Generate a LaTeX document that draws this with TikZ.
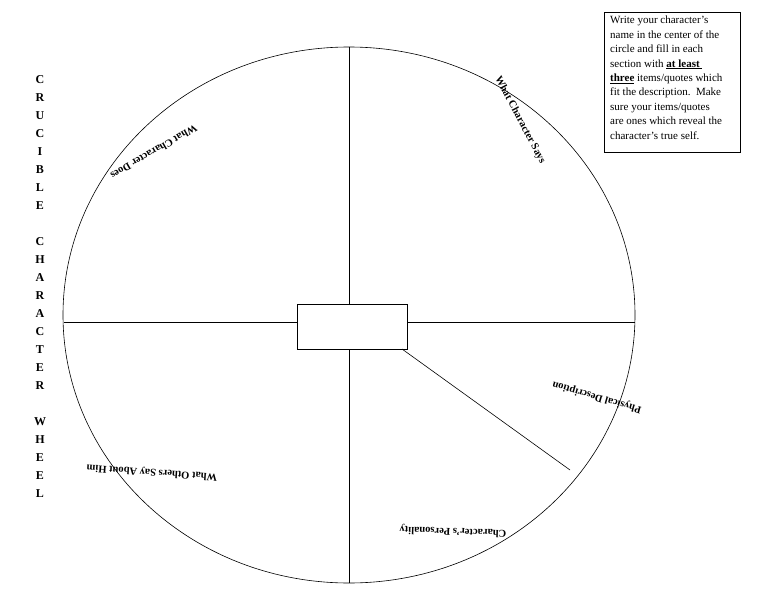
\documentclass[tikz,border=0pt]{standalone}
\usepackage{fontspec}
\setmainfont{Liberation Serif}
\begin{document}
\begin{tikzpicture}[x=1pt,y=-1pt,
  lab/.style={font=\fontsize{10.5}{11}\selectfont\bfseries, inner sep=0pt},
  ln/.style={draw=black, line width=0.6pt}]
\useasboundingbox (0,0) rectangle (768,594);
\fill[white] (0,0) rectangle (768,594);
\coordinate (c) at (349,315);
\draw[ln] (c) ellipse [x radius=286, y radius=268];
\coordinate (top) at (349,47);
\coordinate (bot) at (349,583);
\coordinate (lft) at (63.5,322);
\coordinate (rgt) at (634.5,322);
\node[draw, line width=0.6pt, fill=white, minimum width=110, minimum height=45, inner sep=0] (box) at (352,326.5) {};
\draw[ln] (top) -- (top |- box.north);
\draw[ln] (bot |- box.south) -- (bot);
\draw[ln] (lft) -- (lft -| box.west);
\draw[ln] (rgt -| box.east) -- (rgt);
\coordinate (rim) at (570,470);
\draw[ln] (402,349) -- (rim);
\node[lab, rotate=-62] (says) at (520,120) {What Character Says};
\node[lab, rotate=210] (does) at (154,152) {What Character Does};
\node[lab, rotate=164] (phys) at (597,397) {Physical Description};
\node[lab, rotate=178] (pers) at (453,531) {Character's Personality};
\node[lab, rotate=176] (oth) at (152,472) {What Others Say About Him};
\node[draw, line width=0.6pt, anchor=north west, minimum width=136, minimum height=140, inner sep=0] (info) at (604,12) {};
\node[anchor=north west, inner sep=0, font=\fontsize{11}{14.4}\selectfont, align=left] (infotxt) at (610,16)
  {Write your character's\\ name in the center of the\\ circle and fill in each\\ section with \textbf{\underline{at least\ }}\\ \textbf{\underline{three}} items/quotes which\\ fit the description.\ \ Make\\ sure your items/quotes\\ are ones which reveal the\\ character's true self.};
\foreach \t [count=\i from 0] in {C,R,U,C,I,B,L,E,{},C,H,A,R,A,C,T,E,R,{},W,H,E,E,L}
  \node[font=\fontsize{12}{12}\selectfont\bfseries] (v\i) at (40,80+\i*18) {\t};
\end{tikzpicture}
\end{document}
